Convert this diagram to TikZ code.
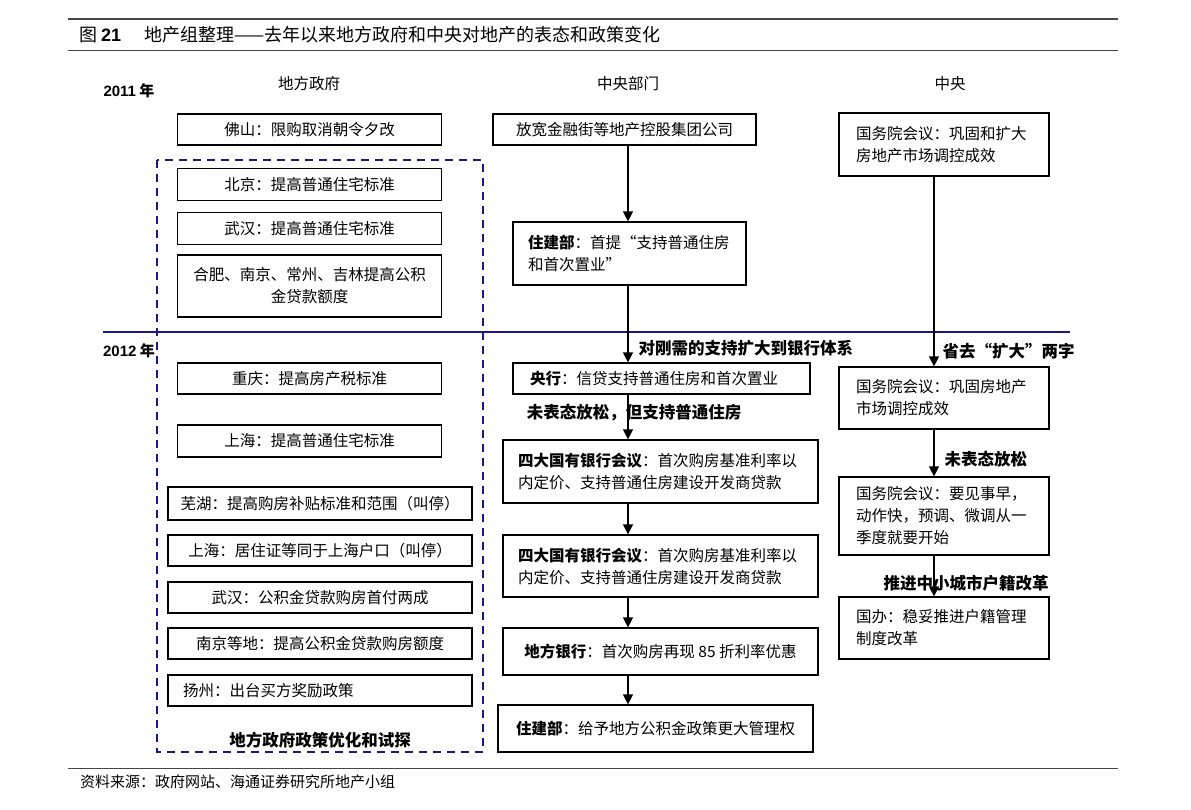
\documentclass[tikz,border=0pt]{standalone}
\usepackage{fontspec}
\setmainfont{Noto Sans CJK SC}
\newfontfamily\arialf{Liberation Sans}
\usepackage{tikz}
\usetikzlibrary{arrows.meta,positioning}
\usepackage{xcolor}
\definecolor{rulegray}{RGB}{70,70,70}
\definecolor{lineblue}{RGB}{25,25,140}

\begin{document}
\begin{tikzpicture}[x=1pt,y=-1pt,
    every node/.style={font=\fontsize{15.5}{22}\selectfont, inner sep=0pt},
    box/.style={draw, line width=1.2pt, align=center},
    lbox/.style={draw, line width=1.2pt, align=left, inner xsep=15pt},
    lab/.style={font=\fontsize{16.5}{20}\selectfont\bfseries},
    arr/.style={line width=1.3pt, -{Triangle[length=10pt,width=10pt]}},
    rule/.style={rulegray, line width=1.2pt}]
  \useasboundingbox (0,0) rectangle (1191,810);
  % title and rules
  \draw[rule] (68,19) -- (1118,19);
  \draw[rule, line width=0.9pt] (68,50) -- (1118,50);
  \draw[rule, line width=0.9pt] (68,768) -- (1118,768);
  \node[anchor=west, font=\fontsize{18}{20}\selectfont] (title) at (79,35)
    {图 {\arialf\bfseries 21}\hspace{1.3em}地产组整理——去年以来地方政府和中央对地产的表态和政策变化};
  \node[anchor=west, font=\fontsize{15}{18}\selectfont] (src) at (80,782) {资料来源：政府网站、海通证券研究所地产小组};
  % headers
  \node[font=\fontsize{15}{18}\selectfont\bfseries] (y11) at (129,91) {{\arialf 2011} 年};
  \node (hdf) at (309,84) {地方政府};
  \node (hzb) at (628,84) {中央部门};
  \node (hzy) at (950,84) {中央};
  \node[font=\fontsize{15}{18}\selectfont\bfseries] (y12) at (129,351) {{\arialf 2012} 年};
  \draw[lineblue, line width=1.5pt] (103,332) -- (1070,332);
  \draw[lineblue, line width=1.6pt, dash pattern=on 8pt off 6pt] (157,160) rectangle (483,752);
  \coordinate (xm) at (628,0);
  \coordinate (xr) at (934,0);

  % local governments
  \node[box, minimum width=264, minimum height=31] (fs) at (309.5,129.5) {佛山：限购取消朝令夕改};
  \node[box, minimum width=264, minimum height=32] (bj) at (309.5,184.5) {北京：提高普通住宅标准};
  \node[box, minimum width=264, minimum height=32] (wh1) at (309.5,228.5) {武汉：提高普通住宅标准};
  \node[box, minimum width=264, minimum height=62] (hf) at (309.5,286) {合肥、南京、常州、吉林提高公积\\金贷款额度};
  \node[box, minimum width=264, minimum height=31] (cq) at (309.5,378.5) {重庆：提高房产税标准};
  \node[box, minimum width=264, minimum height=32] (sh1) at (309.5,441) {上海：提高普通住宅标准};
  \node[box, minimum width=304, minimum height=33] (wuh) at (320,503.5) {芜湖：提高购房补贴标准和范围（叫停）};
  \node[box, minimum width=304, minimum height=31] (sh2) at (320,550.5) {上海：居住证等同于上海户口（叫停）};
  \node[box, minimum width=304, minimum height=31] (wh2) at (320,597.5) {武汉：公积金贷款购房首付两成};
  \node[box, minimum width=304, minimum height=31] (nj) at (320,643.5) {南京等地：提高公积金贷款购房额度};
  \node[lbox, text width=274, minimum height=31] (yz) at (320,690.5) {扬州：出台买方奖励政策};
  \node[lab] (dfzc) at (320,740) {地方政府政策优化和试探};

  % central departments
  \node[box, minimum width=263, minimum height=31] (jr) at (624.5,129.5) {放宽金融街等地产控股集团公司};
  \node[lbox, text width=203, minimum height=63] (zj1) at (629.5,253.5) {\textbf{住建部}：首提“支持普通住房\\和首次置业”};
  \node[lbox, inner xsep=17pt, text width=263, minimum height=31] (yh) at (661.5,378.5) {\textbf{央行}：信贷支持普通住房和首次置业};
  \node[lbox, text width=285, minimum height=63] (sd1) at (660.5,471.5) {\textbf{四大国有银行会议}：首次购房基准利率以\\内定价、支持普通住房建设开发商贷款};
  \node[lbox, text width=285, minimum height=62] (sd2) at (660.5,566) {\textbf{四大国有银行会议}：首次购房基准利率以\\内定价、支持普通住房建设开发商贷款};
  \node[box, minimum width=315, minimum height=47] (dfyh) at (660.5,651.5) {\textbf{地方银行}：首次购房再现 85 折利率优惠};
  \node[box, minimum width=315, minimum height=47] (zj2) at (655.5,728.5) {\textbf{住建部}：给予地方公积金政策更大管理权};

  % central government
  \node[lbox, inner xsep=17pt, text width=176, minimum height=63] (gw1) at (944,144.5) {国务院会议：巩固和扩大\\房地产市场调控成效};
  \node[lbox, inner xsep=17pt, text width=176, minimum height=62] (gw2) at (944,398) {国务院会议：巩固房地产\\市场调控成效};
  \node[lbox, inner xsep=17pt, text width=176, minimum height=78] (gw3) at (944,516) {国务院会议：要见事早，\\动作快，预调、微调从一\\季度就要开始};
  \node[lbox, inner xsep=17pt, text width=176, minimum height=62] (gb) at (944,628) {国办：稳妥推进户籍管理\\制度改革};

  \draw[arr] (jr.south -| xm) -- (zj1.north -| xm);
  \draw[arr] (zj1.south -| xm) -- (yh.north -| xm) node[lab, pos=.82, right=10pt] {对刚需的支持扩大到银行体系};
  \draw[arr] (yh.south -| xm) -- (sd1.north -| xm) node[lab, pos=.4, xshift=6pt] {未表态放松，但支持普通住房};
  \draw[arr] (sd1.south -| xm) -- (sd2.north -| xm);
  \draw[arr] (sd2.south -| xm) -- (dfyh.north -| xm);
  \draw[arr] (dfyh.south -| xm) -- (zj2.north -| xm);
  \draw[arr] (gw1.south -| xr) -- (gw2.north -| xr) node[lab, pos=.92, right=8pt] {省去“扩大”两字};
  \draw[arr] (gw2.south -| xr) -- (gw3.north -| xr) node[lab, pos=.64, right=10pt] {未表态放松};
  \draw[arr] (gw3.south -| xr) -- (gb.north -| xr) node[lab, pos=.68, xshift=32pt] {推进中小城市户籍改革};
\end{tikzpicture}
\end{document}
